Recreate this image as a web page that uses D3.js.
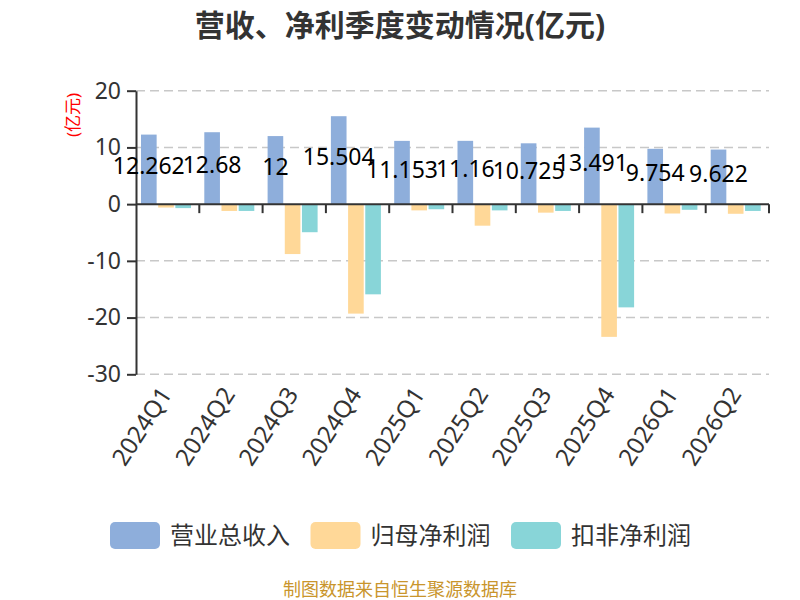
<!DOCTYPE html>
<html>
<head>
<meta charset="utf-8">
<script src="https://cdn.jsdelivr.net/npm/d3@7"></script>
<style>
  body { margin: 0; background: #fff; }
  svg { font-family: "Noto Sans", "Noto Sans CJK SC", sans-serif; }
</style>
</head>
<body>
<div id="root"></div>
<script>
// data
const quarters = ['2024Q1', '2024Q2', '2024Q3', '2024Q4', '2025Q1', '2025Q2', '2025Q3', '2025Q4', '2026Q1', '2026Q2']
const revenue = [12.262, 12.68, 12, 15.504, 11.153, 11.16, 10.725, 13.491, 9.754, 9.622]
const netProfit = [-0.6, -1.2, -8.8, -19.3, -1.1, -3.8, -1.5, -23.4, -1.65, -1.7]
const deductedProfit = [-0.7, -1.2, -4.95, -15.9, -0.9, -1.1, -1.2, -18.2, -1.0, -1.2]
const seriesNames = ['营业总收入', '归母净利润', '扣非净利润']
const yTicks = [20, 10, 0, -10, -20, -30]

const colors = ['#8eaedb', '#ffd898', '#88d5d8']
const w = 800, h = 600

//scales
const x = d3.scaleBand()
    .domain(quarters)
    .range([136, 769])

const x1 = d3.scaleBand()
    .domain([0, 1, 2])
    .range([5, x.bandwidth() - 8.3])
    .paddingInner(0.09)

const y = d3.scaleLinear()
    .domain([-30, 20])
    .range([374.3, 90.7])

const svg = d3.select("#root").append("svg")
    .attr("width", w)
    .attr("height", h)

// title
svg.append("text")
    .attr("x", 400)
    .attr("y", 36)
    .attr("text-anchor", "middle")
    .attr("font-size", 30)
    .attr("font-weight", "bold")
    .attr("fill", "#333")
    .text("营收、净利季度变动情况(亿元)")

// grid lines
svg.append("g").selectAll("line.grid")
    .data(yTicks.filter(d => d !== 0))
    .enter().append("line")
    .attr("class", "grid")
    .attr("x1", x.range()[0])
    .attr("x2", x.range()[1])
    .attr("y1", d => y(d))
    .attr("y2", d => y(d))
    .attr("stroke", "#c8c8c8")
    .attr("stroke-width", 1.5)
    .attr("stroke-dasharray", "9,5")

// y axis
const yAxis = svg.append("g")
    .attr("transform", `translate(${x.range()[0]},0)`)
    .call(d3.axisLeft(y).tickValues(yTicks).tickFormat(d => String(d))
        .tickSize(9).tickPadding(6).tickSizeOuter(0))
yAxis.select(".domain").attr("stroke", "#333").attr("stroke-width", 2)
yAxis.selectAll(".tick line").attr("stroke", "#333").attr("stroke-width", 2)
yAxis.selectAll(".tick text")
    .attr("font-size", 23)
    .attr("fill", "#333")
    .attr("font-family", "Noto Sans")

svg.append("text")
    .attr("transform", "translate(79,115) rotate(-90)")
    .attr("text-anchor", "middle")
    .attr("font-size", 17)
    .attr("fill", "red")
    .text("(亿元)")

// bars
const series = [revenue, netProfit, deductedProfit]
const groups = svg.append("g").selectAll("g.series")
    .data(series)
    .enter().append("g")
    .attr("class", "series")
    .attr("fill", (d, i) => colors[i])

groups.each(function (vals, si) {
    d3.select(this).selectAll("rect")
        .data(vals)
        .enter().append("rect")
        .attr("x", (d, i) => x(quarters[i]) + x1(si))
        .attr("width", x1.bandwidth())
        .attr("y", d => Math.min(y(d), y(0)))
        .attr("height", d => Math.abs(y(d) - y(0)))
})

// x axis on zero
const xAxis = svg.append("g")
xAxis.append("line")
    .attr("x1", x.range()[0])
    .attr("x2", x.range()[1])
    .attr("y1", y(0))
    .attr("y2", y(0))
    .attr("stroke", "#333")
    .attr("stroke-width", 2)
xAxis.selectAll("line.tick")
    .data(quarters.slice(1).map(q => x(q)).concat([x.range()[1]]))
    .enter().append("line")
    .attr("class", "tick")
    .attr("x1", d => d)
    .attr("x2", d => d)
    .attr("y1", y(0))
    .attr("y2", y(0) + 9)
    .attr("stroke", "#333")
    .attr("stroke-width", 2)

// category labels
svg.append("g").selectAll("text.cat")
    .data(quarters)
    .enter().append("text")
    .attr("class", "cat")
    .attr("text-anchor", "end")
    .attr("font-size", 24)
    .attr("fill", "#333")
    .attr("transform", d => `translate(${x(d) + x.bandwidth() / 2 + 5},${y(-30) + 20}) rotate(-57)`)
    .text(d => d)

// value labels on revenue bars
svg.append("g").selectAll("text.label")
    .data(revenue)
    .enter().append("text")
    .attr("class", "label")
    .attr("text-anchor", "middle")
    .attr("font-size", 23)
    .attr("fill", "#000")
    .attr("x", (d, i) => x(quarters[i]) + x1(0) + x1.bandwidth() / 2)
    .attr("y", d => (y(d) + y(0)) / 2 + 5)
    .text(d => d)

// legend
const legend = svg.append("g").selectAll("g.legend")
    .data(seriesNames)
    .enter().append("g")
    .attr("class", "legend")
    .attr("transform", (d, i) => `translate(${110 + i * 200.5},522)`)
legend.append("rect")
    .attr("width", 50)
    .attr("height", 27)
    .attr("rx", 5)
    .attr("fill", (d, i) => colors[i])
legend.append("text")
    .attr("x", 60)
    .attr("y", 22)
    .attr("font-size", 24)
    .attr("fill", "#333")
    .text(d => d)

// source note
svg.append("text")
    .attr("x", 400)
    .attr("y", 596)
    .attr("text-anchor", "middle")
    .attr("font-size", 18)
    .attr("fill", "#c9952c")
    .text("制图数据来自恒生聚源数据库")
</script>
</body>
</html>
